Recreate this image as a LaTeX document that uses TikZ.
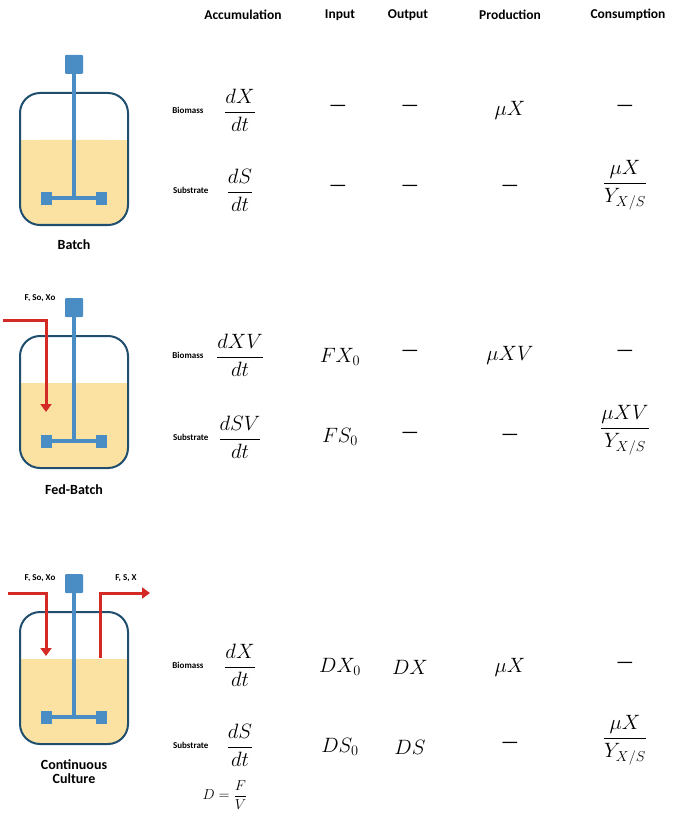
\documentclass[tikz,border=0pt]{standalone}
\usepackage{fontspec}
\setmainfont{Carlito}
\usepackage{amsmath}
\usetikzlibrary{arrows.meta}
\definecolor{outl}{HTML}{1F4E6E}
\definecolor{shaft}{HTML}{4A8CC4}
\definecolor{liq}{HTML}{FBE2A2}
\definecolor{redf}{HTML}{D42A25}
\tikzset{
  hdr/.style={font=\bfseries\fontsize{13.5}{15}\selectfont},
  rowlbl/.style={font=\bfseries\fontsize{9}{10}\selectfont, anchor=east},
  eq/.style={font=\fontsize{20}{22}\selectfont},
  capt/.style={font=\bfseries\fontsize{14}{16}\selectfont, align=center},
  feed/.style={draw=redf, line width=3pt, -{Triangle[length=8pt,width=11pt]}},
  flab/.style={font=\bfseries\fontsize{9}{10}\selectfont},
}
\newcommand{\reactor}[3]{% #1 x-center, #2 top y of vessel, #3 name
  \begin{scope}[shift={(#1,#2)}]
    \fill[liq, rounded corners=20pt] (-54,47) -- (-54,132) -- (54,132) -- (54,47) -- cycle;
    \fill[liq] (-54,47) rectangle (54,70);
    \draw[outl, line width=2pt, rounded corners=20pt] (-54,0) rectangle (54,132);
    \draw[shaft, line width=4pt] (0,-20) -- (0,105);
    \draw[shaft, line width=4pt] (-28,105) -- (28,105);
    \fill[shaft, rounded corners=1pt] (-9,-38) rectangle (9,-19);
    \fill[shaft] (-33,99) rectangle (-22,112);
    \fill[shaft] (22,99) rectangle (33,112);
    \coordinate (#3) at (0,0);
  \end{scope}}
\begin{document}
\begin{tikzpicture}[x=1pt,y=-1pt]
\useasboundingbox (0,0) rectangle (685,818);
% headers
\node[hdr] (h1) at (243,15) {Accumulation};
\node[hdr] (h2) at (340,15) {Input};
\node[hdr] (h3) at (408,15) {Output};
\node[hdr] (h4) at (510,15) {Production};
\node[hdr] (h5) at (628,15) {Consumption};
% reactors
\reactor{74}{93}{rb}
\node[capt] (cb) at (74,245) {Batch};
\reactor{74}{336}{rf}
\node[capt] (cf) at (74,490) {Fed-Batch};
\reactor{74}{612}{rc}
\node[capt] (cc) at (74,772) {Continuous\\[-2pt]Culture};
% feeds
\node[flab] (lf) at (40,298) {F, So, Xo};
\coordinate (f1) at (3,320); \coordinate (f2) at (46,320); \coordinate (f3) at (46,412);
\draw[feed] (f1) -- (f2) -- (f3);
\node[flab] (lc1) at (40,578) {F, So, Xo};
\node[flab] (lc2) at (126,578) {F, S, X};
\coordinate (c1) at (8,593); \coordinate (c2) at (46,593); \coordinate (c3) at (46,656);
\draw[feed] (c1) -- (c2) -- (c3);
\coordinate (o1) at (100,658); \coordinate (o2) at (100,593); \coordinate (o3) at (150,593);
\draw[feed] (o1) -- (o2) -- (o3);
% rows
\foreach \y/\nm in {110/b,355/f,665/c}{\node[rowlbl] (bl\nm) at (207,\y) {Biomass};}
\foreach \y/\nm in {190/b,437/f,745/c}{\node[rowlbl] (sl\nm) at (212,\y) {Substrate};}
% batch
\node[eq] (b1) at (240,110) {$\dfrac{dX}{dt}$};
\node[eq] (b2) at (338,108) {—};
\node[eq] (b3) at (410,108) {—};
\node[eq] (b4) at (510,110) {$\mu X$};
\node[eq] (b5) at (625,108) {—};
\node[eq] (b6) at (240,190) {$\dfrac{dS}{dt}$};
\node[eq] (b7) at (338,188) {—};
\node[eq] (b8) at (410,188) {—};
\node[eq] (b9) at (510,188) {—};
\node[eq] (b10) at (625,185) {$\dfrac{\mu X}{Y_{X/S}}$};
% fed-batch
\node[eq] (f1n) at (240,355) {$\dfrac{dXV}{dt}$};
\node[eq] (f2n) at (340,357) {$FX_0$};
\node[eq] (f3n) at (410,353) {—};
\node[eq] (f4n) at (510,355) {$\mu XV$};
\node[eq] (f5n) at (625,353) {—};
\node[eq] (f6n) at (240,437) {$\dfrac{dSV}{dt}$};
\node[eq] (f7n) at (340,437) {$FS_0$};
\node[eq] (f8n) at (410,435) {—};
\node[eq] (f9n) at (510,437) {—};
\node[eq] (f10n) at (625,430) {$\dfrac{\mu XV}{Y_{X/S}}$};
% continuous
\node[eq] (c1n) at (240,665) {$\dfrac{dX}{dt}$};
\node[eq] (c2n) at (340,667) {$DX_0$};
\node[eq] (c3n) at (410,667) {$DX$};
\node[eq] (c4n) at (510,667) {$\mu X$};
\node[eq] (c5n) at (625,665) {—};
\node[eq] (c6n) at (240,745) {$\dfrac{dS}{dt}$};
\node[eq] (c7n) at (340,747) {$DS_0$};
\node[eq] (c8n) at (410,747) {$DS$};
\node[eq] (c9n) at (510,745) {—};
\node[eq] (c10n) at (625,740) {$\dfrac{\mu X}{Y_{X/S}}$};
\node[font=\fontsize{15}{17}\selectfont] (dn) at (225,795) {$D=\dfrac{F}{V}$};
\end{tikzpicture}
\end{document}
